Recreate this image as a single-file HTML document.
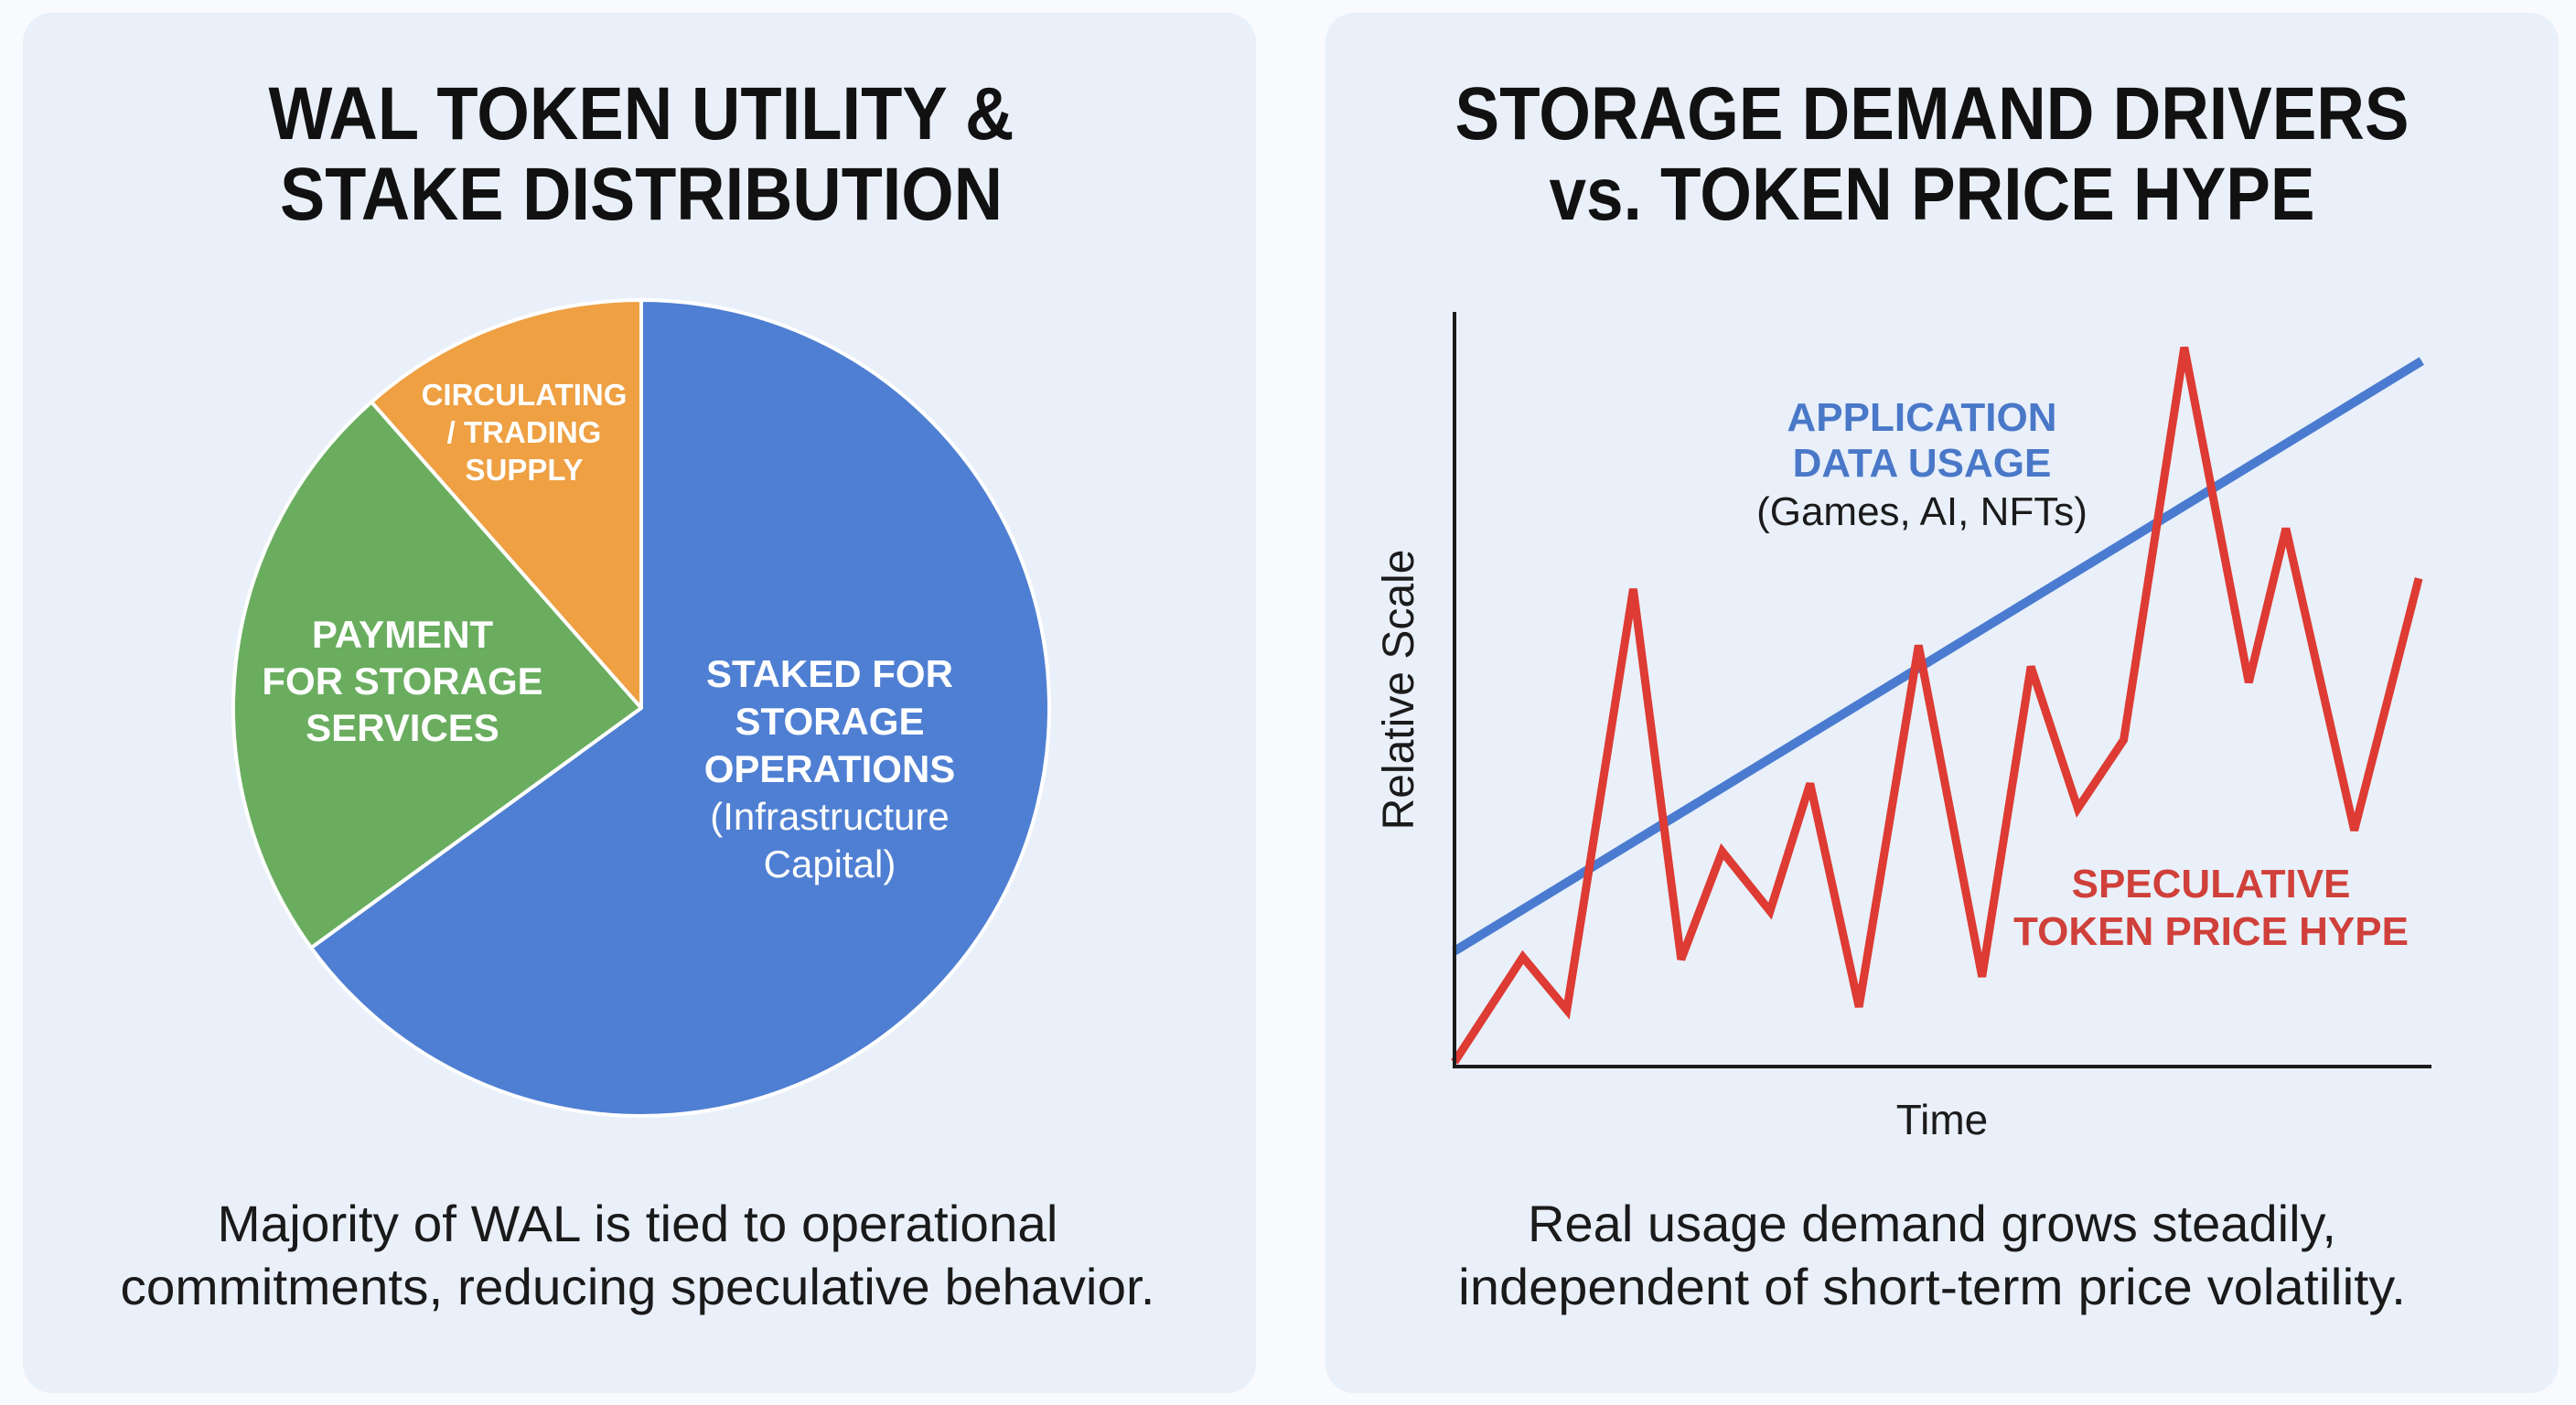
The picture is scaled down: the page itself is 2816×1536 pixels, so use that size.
<!DOCTYPE html>
<html><head><meta charset="utf-8"><style>
html,body{margin:0;padding:0;background:#f8fafd;}
svg{display:block;font-family:"Liberation Sans",Arial,sans-serif;}
</style></head><body>
<svg id="root" width="2816" height="1536" viewBox="0 0 2816 1536" xmlns="http://www.w3.org/2000/svg">
<rect x="0" y="0" width="2816" height="1536" fill="#f8fafd"/>
<rect x="25" y="14" width="1348" height="1509" rx="32" fill="#e9f0fa"/>
<rect x="1449" y="14" width="1348" height="1509" rx="32" fill="#e9f0fa"/>

<g font-weight="bold" font-size="82" fill="#111" text-anchor="middle">
<text x="701" y="152" textLength="815" lengthAdjust="spacingAndGlyphs">WAL TOKEN UTILITY &amp;</text>
<text x="701" y="240" textLength="790" lengthAdjust="spacingAndGlyphs">STAKE DISTRIBUTION</text>
</g>
<g id="pie"></g>
<g font-size="56" fill="#1a1a1a" text-anchor="middle">
<text x="697" y="1357" textLength="919" lengthAdjust="spacingAndGlyphs">Majority of WAL is tied to operational</text>
<text x="697" y="1426" textLength="1131" lengthAdjust="spacingAndGlyphs">commitments, reducing speculative behavior.</text>
</g>

<g font-weight="bold" font-size="82" fill="#111" text-anchor="middle">
<text x="2112" y="152" textLength="1043" lengthAdjust="spacingAndGlyphs">STORAGE DEMAND DRIVERS</text>
<text x="2112" y="240" textLength="837" lengthAdjust="spacingAndGlyphs">vs. TOKEN PRICE HYPE</text>
</g>
<g id="line"></g>
<g font-size="56" fill="#1a1a1a" text-anchor="middle">
<text x="2112" y="1357" textLength="884" lengthAdjust="spacingAndGlyphs">Real usage demand grows steadily,</text>
<text x="2112" y="1426" textLength="1036" lengthAdjust="spacingAndGlyphs">independent of short-term price volatility.</text>
</g>
</svg>
<script>
const NS='http://www.w3.org/2000/svg';
// Pie data
const pieLabels=['Staked for storage operations','Payment for storage services','Circulating / trading supply'];
const pieValues=[65,23.5,11.5];
const pieColors=['#4f7fd3','#6aad5f','#eea043'];
// Line chart data
const timePoints=[0,7,11.5,18.3,23.2,27.4,32.3,36.4,41.4,47.5,54,59,63.8,68.5,74.7,81.3,85.1,92.1,98.7];
const hypeValues=[0.6,14.5,7.5,63.3,14.2,28.5,20.6,37.5,7.9,55.8,11.9,53,34.2,43.3,95.3,50.9,71.3,31.3,64.7];
const usageTimes=[0,99];
const usageValues=[15.3,93.5];

function mk(tag,attrs,parent){const e=document.createElementNS(NS,tag);for(const k in attrs)e.setAttribute(k,attrs[k]);parent.appendChild(e);return e;}

// pie
const pie=document.getElementById('pie');
const cx=701,cy=774,r=446;
const total=pieValues.reduce((a,b)=>a+b,0);
let acc=0;
pieValues.forEach((v,i)=>{
  const a0=acc/total*2*Math.PI;acc+=v;const a1=acc/total*2*Math.PI;
  const x0=cx+r*Math.sin(a0),y0=cy-r*Math.cos(a0),x1=cx+r*Math.sin(a1),y1=cy-r*Math.cos(a1);
  const large=(a1-a0)>Math.PI?1:0;
  const p=mk('path',{d:`M${cx},${cy} L${x0},${y0} A${r},${r} 0 ${large} 1 ${x1},${y1} Z`,fill:pieColors[i],stroke:'#ffffff','stroke-width':4,'stroke-linejoin':'round'},pie);
  
  
});
function label(lines,x,y0,dy,size,extra){
  lines.forEach((l,i)=>{
    const t=mk('text',{x:x,y:y0+i*dy,'font-size':l[1]||size,'font-weight':l[2]||'bold',fill:'#fff','text-anchor':'middle'},pie);
    t.textContent=l[0];
    
    
  });
}
label([['STAKED FOR'],['STORAGE'],['OPERATIONS'],['(Infrastructure',42,'normal'],['Capital)',42,'normal']],907,751,52,42);
label([['PAYMENT'],['FOR STORAGE'],['SERVICES']],440,708,51,42);
label([['CIRCULATING'],['/ TRADING'],['SUPPLY']],573,443,41,33);

// line chart
const lc=document.getElementById('line');
const X0=1590,X1=2658,Y0=1166,Y1=341;
const xs=t=>X0+t/100*(X1-X0);
const ys=v=>Y0-v/100*(Y0-Y1);
const up=mk('polyline',{points:usageTimes.map((t,i)=>xs(t)+','+ys(usageValues[i])).join(' '),fill:'none',stroke:'#4a7bd0','stroke-width':10,'stroke-linecap':'butt'},lc);


const hp=mk('polyline',{points:timePoints.map((t,i)=>xs(t)+','+ys(hypeValues[i])).join(' '),fill:'none',stroke:'#dd3b33','stroke-width':9,'stroke-linejoin':'miter','stroke-miterlimit':3},lc);


const ya=mk('line',{x1:X0,y1:Y1,x2:X0,y2:Y0+2,stroke:'#1b1b1b','stroke-width':4},lc);


const xa=mk('line',{x1:X0-2,y1:Y0,x2:X1,y2:Y0,stroke:'#1b1b1b','stroke-width':4},lc);


function txt(s,x,y,size,weight,fill,name,rot){
  const t=mk('text',{x:x,y:y,'font-size':size,'font-weight':weight,fill:fill,'text-anchor':'middle'},lc);
  if(rot)t.setAttribute('transform',`rotate(-90 ${x} ${y})`);
  t.textContent=s;
  
  
}
txt('Relative Scale',1545,754,48,'normal','#1b1b1b','y-axis-title',true);
txt('Time',2123,1240,46,'normal','#1b1b1b','x-axis-title');
txt('APPLICATION',2101,471,44,'bold','#4a78c8','usage-label');
txt('DATA USAGE',2101,521,44,'bold','#4a78c8','usage-label');
txt('(Games, AI, NFTs)',2101,574,44,'normal','#1b1b1b','usage-sublabel');
txt('SPECULATIVE',2417,981,44,'bold','#d0403a','hype-label');
txt('TOKEN PRICE HYPE',2417,1033,44,'bold','#d0403a','hype-label');
</script>
</body></html>
